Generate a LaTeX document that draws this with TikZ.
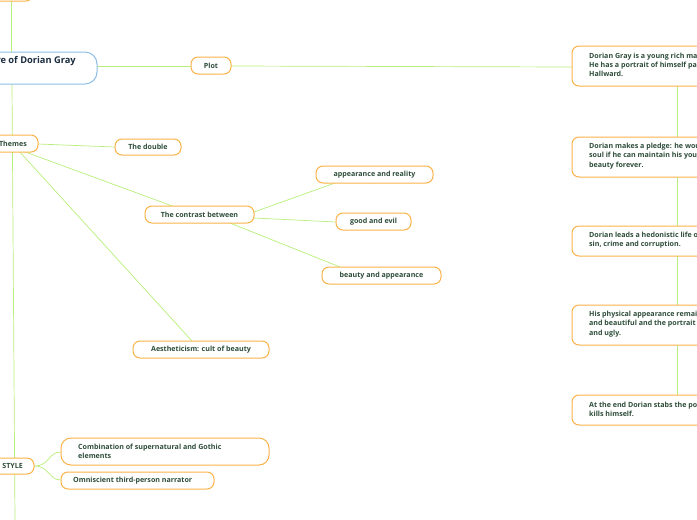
\documentclass[tikz,border=0pt]{standalone}
\usepackage{fontspec}
\setmainfont{Open Sans}
\definecolor{txt}{HTML}{2E4D3A}
\definecolor{ob}{HTML}{F9B34A}
\definecolor{bb}{HTML}{8DBDE6}
\definecolor{ln}{HTML}{B8EE7A}
\tikzset{x=1pt,y=-1pt,
 box/.style={draw=ob,line width=1pt,rounded corners=7pt,fill=white},
 lbl/.style={font=\bfseries\fontsize{7.1}{9.2}\selectfont,text=txt,align=left,anchor=west,inner sep=0},
 con/.style={draw=ln,line width=0.7pt}}
\begin{document}
\begin{tikzpicture}
\useasboundingbox (0,0) rectangle (697,520);
\clip (0,0) rectangle (697,520);
% connectors
\coordinate (t0) at (11,0); \coordinate (t1) at (11,52);
\coordinate (m0) at (12,84); \coordinate (m1) at (15,520);
\draw[con] (t0)--(t1); \draw[con] (m0)--(m1);
\draw[con] (97,66)--(191,66); \draw[con] (231,66)--(572,67);
\foreach \a/\b in {86/137,177/226,256/305,345/395}{\draw[con] (677,\a)--(677,\b);}
\draw[con] (38,144)--(115,147);
\draw[con] (20,150)--(175,207);
\draw[con] (18,150)--(192,341);
\draw[con] (254,212)--(335,183);
\draw[con] (254,218)--(336,222);
\draw[con] (230,223)--(340,267);
\draw[con] (34,466) .. controls (50,466) and (48,452) .. (61,452);
\draw[con] (34,466) .. controls (50,466) and (48,480) .. (61,480);
% boxes
\draw[box] (-60,-20) rectangle (33,1);
\draw[box,draw=bb,rounded corners=12pt] (-60,52) rectangle (97,84);
\node[lbl,font=\bfseries\fontsize{9.3}{11}\selectfont,text=black!70!blue!40!txt,anchor=east] (main) at (76,61) {The Picture of Dorian Gray};
\draw[box] (191,57) rectangle (231,74); \node[lbl,anchor=center] (plot) at (211,65.5) {Plot};
\draw[box] (572,46) rectangle (760,86); \node[lbl] (p1) at (589,65) {Dorian Gray is a young rich man.\\He has a portrait of himself painted by Basil\\Hallward.};
\draw[box] (572,137) rectangle (760,177); \node[lbl] (p2) at (589,156) {Dorian makes a pledge: he would sell his\\soul if he can maintain his youth and\\beauty forever.};
\draw[box] (572,226) rectangle (760,256); \node[lbl] (p3) at (589,240) {Dorian leads a hedonistic life of\\sin, crime and corruption.};
\draw[box] (572,305) rectangle (760,345); \node[lbl] (p4) at (589,324) {His physical appearance remains young\\and beautiful and the portrait becomes old\\and ugly.};
\draw[box] (572,395) rectangle (760,425); \node[lbl] (p5) at (589,409) {At the end Dorian stabs the portrait and\\kills himself.};
\draw[box] (-40,135) rectangle (38,152); \node[lbl,anchor=east] (th) at (27,143.5) {Themes};
\draw[box] (115,139) rectangle (181,155); \node[lbl,anchor=center] (dbl) at (148,147) {The double};
\draw[box] (145,206) rectangle (254,223); \node[lbl,anchor=center] (ct) at (199.5,214.5) {The contrast between};
\draw[box] (316,166) rectangle (433,183); \node[lbl,anchor=center] (ar) at (374.5,174.5) {appearance and reality};
\draw[box] (336,213) rectangle (411,230); \node[lbl,anchor=center] (ge) at (373.5,221.5) {good and evil};
\draw[box] (322,267) rectangle (441,284); \node[lbl,anchor=center] (ba) at (381.5,275.5) {beauty and appearance};
\draw[box] (133,341) rectangle (269,358); \node[lbl,anchor=center] (ae) at (201,349.5) {Aestheticism: cult of beauty};
\draw[box] (-40,458) rectangle (34,474); \node[lbl,anchor=east] (st) at (23,466) {STYLE};
\draw[box,rounded corners=10pt] (61,438) rectangle (269,465); \node[lbl] (sn) at (78,451.5) {Combination of supernatural and Gothic\\elements};
\draw[box] (61,472) rectangle (214,489); \node[lbl] (om) at (73,480.5) {Omniscient third-person narrator};
\end{tikzpicture}
\end{document}
